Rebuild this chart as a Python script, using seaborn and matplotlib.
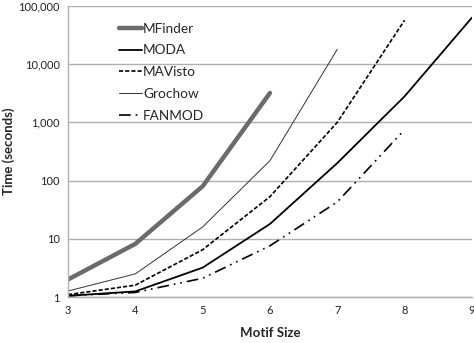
import matplotlib
matplotlib.use("Agg")
import matplotlib.pyplot as plt
import matplotlib.ticker as mticker
import seaborn as sns
import pandas as pd

sns.set_theme(style="white")
plt.rcParams['font.family'] = ['Lato', 'DejaVu Sans']

sizes_mfinder = [3, 4, 5, 6]
mfinder = [2.0, 8.2, 80, 3200]
sizes_moda = [3, 4, 5, 6, 7, 8, 9]
moda = [1.05, 1.25, 3.2, 18, 200, 2800, 63000]
sizes_mavisto = [3, 4, 5, 6, 7, 8]
mavisto = [1.1, 1.6, 6.5, 53, 1000, 57000]
sizes_grochow = [3, 4, 5, 6, 7]
grochow = [1.27, 2.5, 16, 220, 18000]
sizes_fanmod = [3, 4, 5, 6, 7, 8]
fanmod = [1.05, 1.2, 2.1, 7.6, 43, 750]

series = [
    ("MFinder", sizes_mfinder, mfinder, dict(color="#6b6b6b", linewidth=3.2)),
    ("MODA", sizes_moda, moda, dict(color="black", linewidth=1.3)),
    ("MAVisto", sizes_mavisto, mavisto, dict(color="black", linewidth=1.2, dashes=(2.5, 1.2))),
    ("Grochow", sizes_grochow, grochow, dict(color="#333333", linewidth=0.7)),
    ("FANMOD", sizes_fanmod, fanmod, dict(color="black", linewidth=1.2, dashes=(7, 3, 1, 3, 1, 3))),
]

fig = plt.figure(figsize=(4.74, 3.43), dpi=100)
ax = fig.add_axes([0.1435, 0.134, 0.852, 0.8485])

for name, xs, ys, style in series:
    df = pd.DataFrame({"Motif Size": xs, "Time": ys})
    sns.lineplot(data=df, x="Motif Size", y="Time", ax=ax, label=name, **style)

ax.set_yscale("log")
ax.set_ylim(1, 100000)
ax.set_xlim(3, 9)
ax.set_xticks([3, 4, 5, 6, 7, 8, 9])
ax.set_yticks([1, 10, 100, 1000, 10000, 100000])
ax.yaxis.set_major_formatter(mticker.FuncFormatter(lambda v, p: f"{int(round(v)):,}"))
ax.yaxis.set_minor_locator(mticker.NullLocator())
ax.grid(axis="y", color="#b0b0b0", linewidth=1.0)
ax.grid(axis="x", visible=False)
for s in ["top", "right"]:
    ax.spines[s].set_visible(False)
for s in ["left", "bottom"]:
    ax.spines[s].set_color("#b0b0b0")
    ax.spines[s].set_linewidth(1.0)
ax.tick_params(axis="both", labelsize=8, length=0, pad=6, colors="#222222")
ax.set_xlabel("Motif Size", fontsize=9.5, fontweight="bold", labelpad=8)
ax.set_ylabel("Time (seconds)", fontsize=9.5, fontweight="bold", labelpad=2)

ax.legend(loc="upper left", bbox_to_anchor=(0.095, 0.985), frameon=False, fontsize=9.8,
          handlelength=1.7, handletextpad=0.1, labelspacing=0.72)

fig.savefig("out.png", dpi=100)
